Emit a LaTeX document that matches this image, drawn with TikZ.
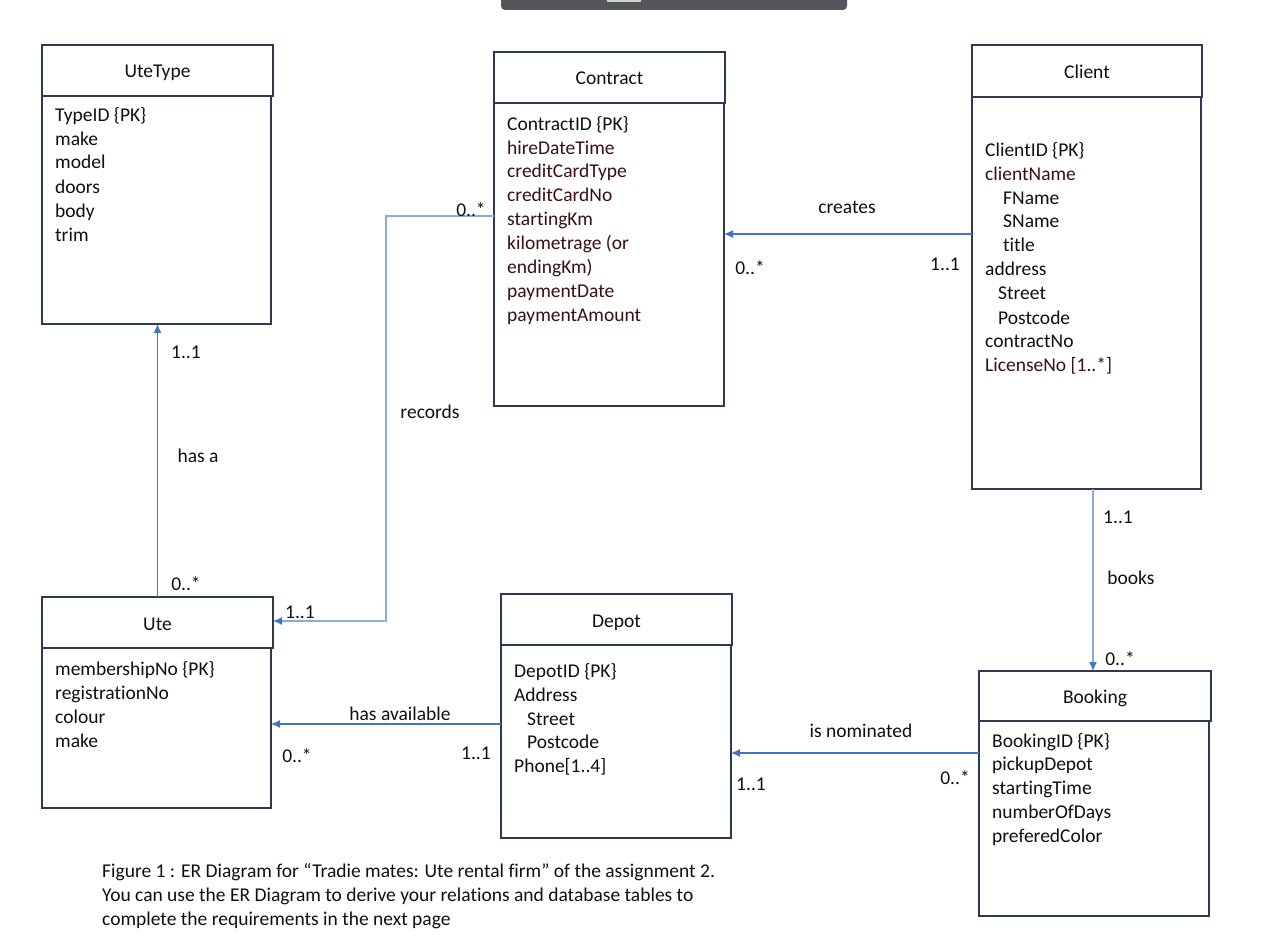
\documentclass[tikz,border=0pt]{standalone}
\usepackage{fontspec}
\setmainfont{Carlito}[Ligatures=NoCommon]
\usetikzlibrary{arrows.meta}
\definecolor{boxc}{RGB}{45,58,80}
\definecolor{lnk}{RGB}{68,114,196}
\definecolor{lnkl}{RGB}{143,170,220}
\definecolor{barc}{RGB}{83,86,90}
\definecolor{txt}{RGB}{15,15,15}
\definecolor{attrr}{RGB}{55,16,16}
\tikzset{
  fnt/.style={font=\fontsize{19.5}{24}\selectfont, text=txt},
  hdr/.style={fnt, draw=boxc, line width=1.6pt, anchor=north west, inner sep=0pt, outer sep=0pt, fill=white, text height=15pt, text depth=0pt},
  bodyb/.style={draw=boxc, line width=1.6pt, anchor=north west, inner sep=0pt, outer sep=0pt},
  attr/.style={fnt, anchor=base west, inner sep=0pt},
  attrx/.style={attr, text=attrr},
  lbl/.style={fnt, anchor=base, inner sep=0pt},
  conn/.style={draw=lnk, line width=1.2pt, -{Latex[length=9pt,width=8pt]}},
  connl/.style={draw=lnkl, line width=1.2pt, -{Latex[length=9pt,width=8pt,color=lnk]}},
}
\begin{document}
\begin{tikzpicture}[x=1pt, y=-1pt]
\useasboundingbox (0,0) rectangle (1286,952);
% top bar
\fill[barc, rounded corners=4pt] (501,-10) rectangle (847,10);
\fill[gray!35] (607,0) rectangle (641,2);

% UteType
\node[bodyb, minimum width=229pt, minimum height=228pt] (utetb) at (42,96) {};
\node[hdr, minimum width=231pt, minimum height=51pt] (uteth) at (42,45) {UteType};
\node[attr] (ut1) at (55,122) {TypeID \{PK\}};
\node[attr] (ut2) at (55,146) {make};
\node[attr] (ut3) at (55,169) {model};
\node[attr] (ut4) at (55,194) {doors};
\node[attr] (ut5) at (55,218) {body};
\node[attr] (ut6) at (55,242) {trim};

% Contract
\node[bodyb, minimum width=230pt, minimum height=303pt] (contb) at (494,103) {};
\node[hdr, minimum width=231pt, minimum height=51pt] (conth) at (494,52) {Contract};
\node[attr] (c1) at (507,131) {ContractID \{PK\}};
\node[attrx] (c2) at (507,155) {hireDateTime};
\node[attrx] (c3) at (507,178) {creditCardType};
\node[attrx] (c4) at (507,202) {creditCardNo};
\node[attrx] (c5) at (507,226) {startingKm};
\node[attrx] (c6) at (507,250) {kilometrage (or};
\node[attrx] (c7) at (507,274) {endingKm)};
\node[attrx] (c8) at (507,298) {paymentDate};
\node[attrx] (c9) at (507,321) {paymentAmount};

% Client
\node[bodyb, minimum width=229pt, minimum height=392pt] (clientb) at (972,97) {};
\node[hdr, minimum width=230pt, minimum height=52pt] (clienth) at (972,45) {Client};
\node[attr] (k1) at (985,157) {ClientID \{PK\}};
\node[attrx] (k2) at (985,181) {clientName};
\node[attr] (k3) at (1003,205) {FName};
\node[attr] (k4) at (1003,228) {SName};
\node[attr] (k5) at (1003,252) {title};
\node[attr] (k6) at (985,276) {address};
\node[attr] (k7) at (998,300) {Street};
\node[attr] (k8) at (998,324) {Postcode};
\node[attr] (k9) at (985,347) {contractNo};
\node[attrx] (k10) at (985,371) {LicenseNo [1..*]};

% Ute
\node[bodyb, minimum width=229pt, minimum height=160pt] (uteb) at (42,648) {};
\node[hdr, minimum width=231pt, minimum height=51pt] (uteh) at (42,597) {Ute};
\node[attr] (u1) at (55,675) {membershipNo \{PK\}};
\node[attr] (u2) at (55,699) {registrationNo};
\node[attr] (u3) at (55,723) {colour};
\node[attr] (u4) at (55,747) {make};

% Depot
\node[bodyb, minimum width=230pt, minimum height=193pt] (depotb) at (501,645) {};
\node[hdr, minimum width=231pt, minimum height=51pt] (depoth) at (501,594) {Depot};
\node[attr] (d1) at (514,677) {DepotID \{PK\}};
\node[attr] (d2) at (514,701) {Address};
\node[attr] (d3) at (527,725) {Street};
\node[attr] (d4) at (527,748) {Postcode};
\node[attr] (d5) at (514,772) {Phone[1..4]};

% Booking
\node[bodyb, minimum width=230pt, minimum height=195pt] (bookb) at (979,721) {};
\node[hdr, minimum width=232pt, minimum height=50pt] (bookh) at (979,671) {Booking};
\node[attr] (b1) at (992,747) {BookingID \{PK\}};
\node[attr] (b2) at (992,770) {pickupDepot};
\node[attr] (b3) at (992,794) {startingTime};
\node[attr] (b4) at (992,818) {numberOfDays};
\node[attr] (b5) at (992,842) {preferedColor};

% helper coordinates
\coordinate (yrec) at (0,216);
\coordinate (xrec) at (386,0);
\coordinate (yrec2) at (0,621);
\coordinate (ycre) at (0,234);
\coordinate (xbook) at (1093,0);
\coordinate (yavail) at (0,724);
\coordinate (ynom) at (0,753);

% connectors
\draw[conn] (uteh.north) -- (uteh.north |- utetb.south);
\draw[connl] (contb.west |- yrec) -- (xrec |- yrec) -- (xrec |- yrec2) -- (uteh.east |- yrec2);
\draw[conn] (clientb.west |- ycre) -- (contb.east |- ycre);
\draw[connl] (xbook |- clientb.south) -- (xbook |- bookh.north);
\draw[conn] (depotb.west |- yavail) -- (uteb.east |- yavail);
\draw[conn] (bookb.west |- ynom) -- (depotb.east |- ynom);

% labels
\node[lbl] (l1) at (186,358) {1..1};
\node[lbl] (l2) at (198,462) {has a};
\node[lbl] (l3) at (186,590) {0..*};
\node[lbl] (l4) at (471,217) {0..*};
\node[lbl] (l5) at (430,418) {records};
\node[lbl] (l6) at (300,618) {1..1};
\node[lbl] (l7) at (847,214) {creates};
\node[lbl] (l8) at (750,275) {0..*};
\node[lbl] (l9) at (945,271) {1..1};
\node[lbl] (l10) at (1118,523) {1..1};
\node[lbl] (l11) at (1131,584) {books};
\node[lbl] (l12) at (1120,665) {0..*};
\node[lbl] (l13) at (400,720) {has available};
\node[lbl] (l14) at (297,762) {0..*};
\node[lbl] (l15) at (476,759) {1..1};
\node[lbl] (l16) at (861,737) {is nominated};
\node[lbl] (l17) at (751,790) {1..1};
\node[lbl] (l18) at (955,784) {0..*};

% caption
\node[attr] (cap1) at (102,877) {Figure 1 : ER Diagram for “Tradie mates: Ute rental firm” of the assignment 2.};
\node[attr] (cap2) at (102,901) {You can use the ER Diagram to derive your relations and database tables to};
\node[attr] (cap3) at (102,925) {complete the requirements in the next page};
\end{tikzpicture}
\end{document}
